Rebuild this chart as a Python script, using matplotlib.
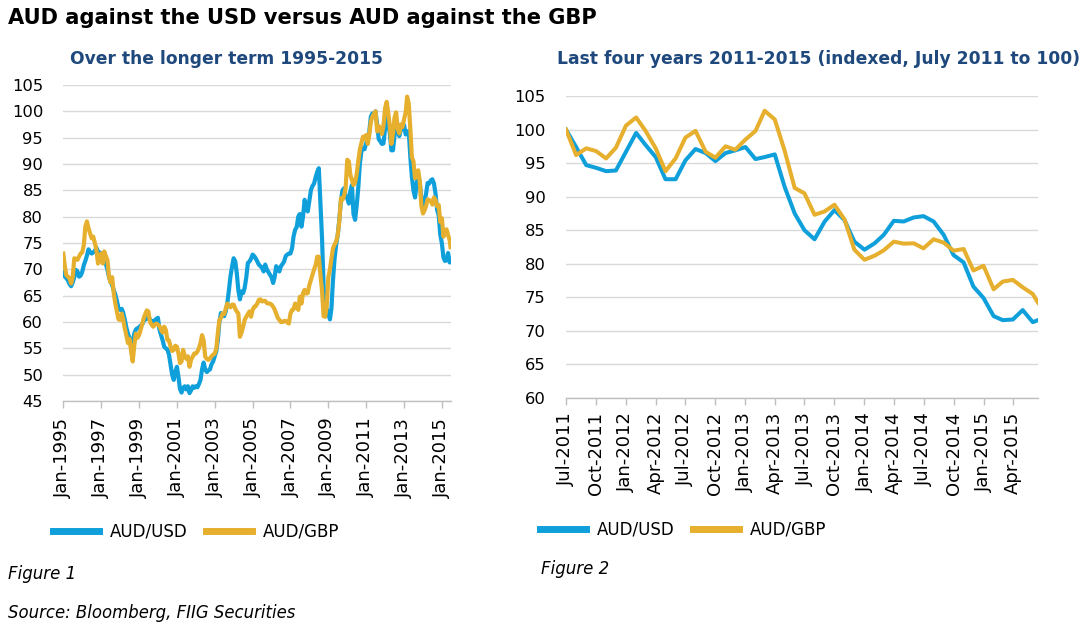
import matplotlib
matplotlib.use('Agg')
import matplotlib.pyplot as plt
from matplotlib.lines import Line2D
import pandas as pd

# ---------------- data ----------------
# Figure 1: AUD/USD and AUD/GBP, indexed (Jul 2011 = 100), monthly Jan-1995 .. Jun-2011
long_usd_1995_2011 = [
    69.5, 68.6, 68.3, 67.9, 67.2, 66.8, 67.5, 68.5, 69.9, 69.6, 68.6, 68.8,   # 1995
    69.5, 70.8, 71.6, 72.6, 73.8, 73.3, 73.0, 73.2, 73.5, 74.1, 73.4, 73.2,   # 1996
    73.0, 72.0, 71.5, 71.0, 70.0, 68.5, 67.6, 67.0, 66.0, 65.2, 64.0, 62.6,   # 1997
    62.3, 62.5, 61.8, 60.5, 59.0, 57.8, 57.0, 55.5, 55.9, 57.8, 58.6, 58.8,   # 1998
    59.0, 59.3, 59.5, 60.2, 60.5, 60.6, 61.0, 60.5, 60.2, 60.0, 60.3, 60.6,   # 1999
    60.8, 58.5, 57.5, 56.5, 55.3, 55.0, 54.8, 53.8, 51.8, 50.0, 49.0, 50.5,   # 2000
    51.5, 49.5, 47.3, 46.6, 47.5, 47.8, 47.2, 47.8, 46.5, 47.0, 47.8, 47.5,   # 2001
    47.8, 47.6, 48.2, 49.0, 51.0, 52.3, 51.0, 50.5, 50.8, 51.0, 52.0, 52.5,   # 2002
    53.5, 54.5, 56.5, 60.0, 61.7, 61.3, 61.1, 62.0, 63.6, 66.0, 68.7, 70.5,   # 2003
    72.1, 71.5, 69.3, 66.0, 64.3, 65.8, 65.5, 66.5, 68.5, 71.2, 71.5, 72.0,   # 2004
    72.8, 72.5, 72.1, 71.5, 70.9, 70.6, 70.3, 69.6, 70.9, 70.0, 69.5, 69.0,   # 2005
    68.5, 67.4, 68.5, 70.6, 70.0, 69.6, 70.6, 71.0, 71.5, 72.5, 72.8, 73.0,   # 2006
    73.0, 74.0, 76.2, 77.5, 78.0, 80.0, 80.5, 78.1, 80.0, 83.2, 82.0, 81.0,   # 2007
    83.0, 85.1, 85.8, 86.3, 87.5, 88.5, 89.2, 82.5, 76.0, 67.0, 61.1, 62.5,   # 2008
    61.5, 60.5, 62.5, 68.0, 72.0, 74.7, 76.5, 79.5, 83.0, 85.0, 85.4, 84.0,   # 2009
    83.5, 82.5, 84.8, 86.0, 80.5, 79.4, 82.0, 85.4, 90.0, 92.4, 93.0, 92.8,   # 2010
    94.0, 94.5, 96.0, 99.0, 99.6, 99.3,                                       # 2011 H1
]
long_gbp_1995_2011 = [
    73.0, 70.5, 68.9, 68.6, 68.3, 67.3, 68.5, 72.1, 72.0, 71.8, 72.4, 73.0,   # 1995
    73.2, 74.6, 78.1, 79.1, 77.8, 76.8, 75.9, 76.2, 75.0, 73.7, 71.1, 72.0,   # 1996
    73.0, 71.1, 73.4, 72.5, 71.8, 68.6, 67.5, 68.5, 65.4, 63.5, 62.0, 60.5,   # 1997
    60.4, 61.6, 60.5, 58.8, 57.5, 56.0, 56.8, 54.5, 52.5, 55.5, 57.8, 57.0,   # 1998
    57.5, 58.5, 59.5, 60.7, 61.5, 62.2, 62.0, 60.0, 59.5, 59.1, 59.5, 59.7,   # 1999
    59.5, 59.2, 58.5, 58.0, 59.1, 58.5, 56.6, 56.5, 55.3, 54.5, 54.7, 55.5,   # 2000
    55.3, 54.0, 52.2, 52.5, 54.7, 53.5, 53.0, 53.5, 51.5, 52.8, 53.4, 54.0,   # 2001
    54.0, 54.4, 55.0, 56.0, 57.5, 56.5, 53.4, 53.0, 52.8, 53.1, 53.5, 53.8,   # 2002
    54.0, 55.0, 57.8, 60.4, 60.8, 61.6, 61.5, 62.5, 63.5, 63.0, 62.8, 63.3,   # 2003
    63.3, 62.5, 62.0, 61.6, 57.2, 58.0, 59.1, 60.4, 61.0, 61.5, 62.0, 61.0,   # 2004
    62.3, 62.9, 63.0, 63.5, 64.2, 64.3, 63.9, 64.0, 64.0, 63.6, 63.5, 63.5,   # 2005
    63.3, 62.9, 62.4, 61.6, 60.8, 60.4, 60.0, 60.0, 60.2, 60.2, 59.9, 59.7,   # 2006
    61.6, 62.3, 62.4, 63.5, 63.0, 62.3, 64.8, 63.5, 65.5, 66.1, 65.4, 65.5,   # 2007
    67.0, 68.0, 68.9, 70.0, 70.8, 72.4, 72.4, 69.0, 66.0, 61.1, 61.0, 63.0,   # 2008
    68.5, 70.0, 72.0, 74.0, 74.7, 75.3, 76.5, 79.1, 83.5, 83.2, 84.0, 85.5,   # 2009
    90.8, 90.5, 88.0, 87.0, 86.0, 86.5, 88.0, 90.5, 92.7, 94.0, 95.2, 94.8,   # 2010
    95.5, 93.8, 95.5, 98.0, 99.0, 99.5,                                       # 2011 H1
]

# Figure 2 (and tail of Figure 1): monthly Jul-2011 .. Jun-2015 plus latest reading
recent_usd = [100, 97.4, 94.7, 94.3, 93.8, 93.9, 96.7, 99.5, 97.7, 95.9, 92.6, 92.6,
              95.4, 97.1, 96.5, 95.3, 96.5, 96.9, 97.4, 95.6, 95.9, 96.3, 91.5, 87.5,
              85.0, 83.65, 86.3, 88.0, 86.5, 83.3, 82.1, 83.05, 84.3, 86.4, 86.3, 86.9,
              87.1, 86.3, 84.3, 81.3, 80.2, 76.6, 74.9, 72.2, 71.6, 71.7, 73.1, 71.3, 71.6]
recent_gbp = [100, 96.2, 97.2, 96.8, 95.7, 97.3, 100.6, 101.8, 99.8, 97.2, 93.8, 95.7,
              98.8, 99.8, 96.7, 95.8, 97.5, 97.0, 98.5, 99.8, 102.8, 101.5, 96.9, 91.3,
              90.5, 87.3, 87.8, 88.8, 86.6, 82.1, 80.6, 81.2, 82.0, 83.3, 83.0, 83.05,
              82.3, 83.65, 83.15, 81.95, 82.2, 79.0, 79.7, 76.2, 77.35, 77.6, 76.5, 75.5, 74.2]

long_dates = list(pd.date_range('1995-01-01', '2011-06-01', freq='MS'))
recent_dates = list(pd.date_range('2011-07-01', '2015-06-01', freq='MS')) + [pd.Timestamp('2015-06-17')]

left_ticks = [pd.Timestamp(f'{y}-01-01') for y in range(1995, 2016, 2)]
left_ticklabels = [f'Jan-{y}' for y in range(1995, 2016, 2)]
right_ticks = list(pd.date_range('2011-07-01', '2015-04-01', freq='3MS'))
right_ticklabels = [d.strftime('%b-%Y') for d in right_ticks]

series_names = ['AUD/USD', 'AUD/GBP']

title = 'AUD against the USD versus AUD against the GBP'
sub_left = 'Over the longer term 1995-2015'
sub_right = 'Last four years 2011-2015 (indexed, July 2011 to 100)'

# ---------------- style ----------------
BLUE = '#0FA0DB'
GOLD = '#E6AF2D'
NAVY = '#1F497D'
GRID = '#D9D9D9'
AXIS = '#BFBFBF'

plt.rcParams['font.family'] = ['DejaVu Sans']

W, H = 1087, 634
fig = plt.figure(figsize=(W / 100, H / 100), dpi=100)


def px_axes(x0, y0, x1, y1):
    return fig.add_axes([x0 / W, 1 - y1 / H, (x1 - x0) / W, (y1 - y0) / H])


def style(ax, xpad):
    for s in ('top', 'left', 'right'):
        ax.spines[s].set_visible(False)
    ax.spines['bottom'].set_color(AXIS)
    ax.spines['bottom'].set_linewidth(1.0)
    ax.yaxis.grid(True, color=GRID, linewidth=1.0)
    ax.set_axisbelow(True)
    ax.tick_params(axis='y', length=0, labelsize=11.8, pad=14.5)
    ax.tick_params(axis='x', direction='out', length=5, width=1, color=AXIS,
                   labelsize=13, labelrotation=90, pad=xpad)


ax1 = px_axes(63.3, 85, 450.7, 401)
ax1.plot(long_dates + recent_dates, long_usd_1995_2011 + recent_usd, color=BLUE, lw=3.0,
         solid_joinstyle='round')
ax1.plot(long_dates + recent_dates, long_gbp_1995_2011 + recent_gbp, color=GOLD, lw=3.0,
         solid_joinstyle='round')
ax1.set_ylim(45, 105)
ax1.set_yticks(range(45, 106, 5))
ax1.set_xlim(pd.Timestamp('1995-01-01'), pd.Timestamp('2015-06-20'))
ax1.set_xticks(left_ticks)
ax1.set_xticklabels(left_ticklabels)
style(ax1, 7)

ax2 = px_axes(566, 96, 1038, 398)
ax2.plot(recent_dates, recent_usd, color=BLUE, lw=2.9, solid_joinstyle='round')
ax2.plot(recent_dates, recent_gbp, color=GOLD, lw=2.9, solid_joinstyle='round')
ax2.set_ylim(60, 105)
ax2.set_yticks(range(60, 106, 5))
ax2.set_xlim(pd.Timestamp('2011-07-01'), pd.Timestamp('2015-06-17'))
ax2.set_xticks(right_ticks)
ax2.set_xticklabels(right_ticklabels)
style(ax2, 5)

# titles
fig.text(8 / W, 1 - 18 / H, title, fontsize=15.1, fontweight='bold', va='center', ha='left')
fig.text(226 / W, 1 - 59 / H, sub_left, fontsize=12.3, fontweight='bold', color=NAVY,
         va='center', ha='center')
fig.text(819 / W, 1 - 59 / H, sub_right, fontsize=12.3, fontweight='bold', color=NAVY,
         va='center', ha='center')

# legends
handles = [Line2D([], [], color=BLUE, lw=5), Line2D([], [], color=GOLD, lw=5)]
for x, y in ((53, 532), (540, 530)):
    fig.legend(handles, series_names, loc='center left', bbox_to_anchor=(x / W, 1 - y / H),
               ncol=2, frameon=False, fontsize=12, handlelength=2.75, handletextpad=0.65,
               columnspacing=1.1, borderpad=0, borderaxespad=0)

# captions
fig.text(8 / W, 1 - 574 / H, 'Figure 1', fontsize=12, style='italic', va='center')
fig.text(8 / W, 1 - 613 / H, 'Source: Bloomberg, FIIG Securities', fontsize=11.9,
         style='italic', va='center')
fig.text(541 / W, 1 - 569 / H, 'Figure 2', fontsize=12, style='italic', va='center')

fig.savefig('out.png', dpi=100)
